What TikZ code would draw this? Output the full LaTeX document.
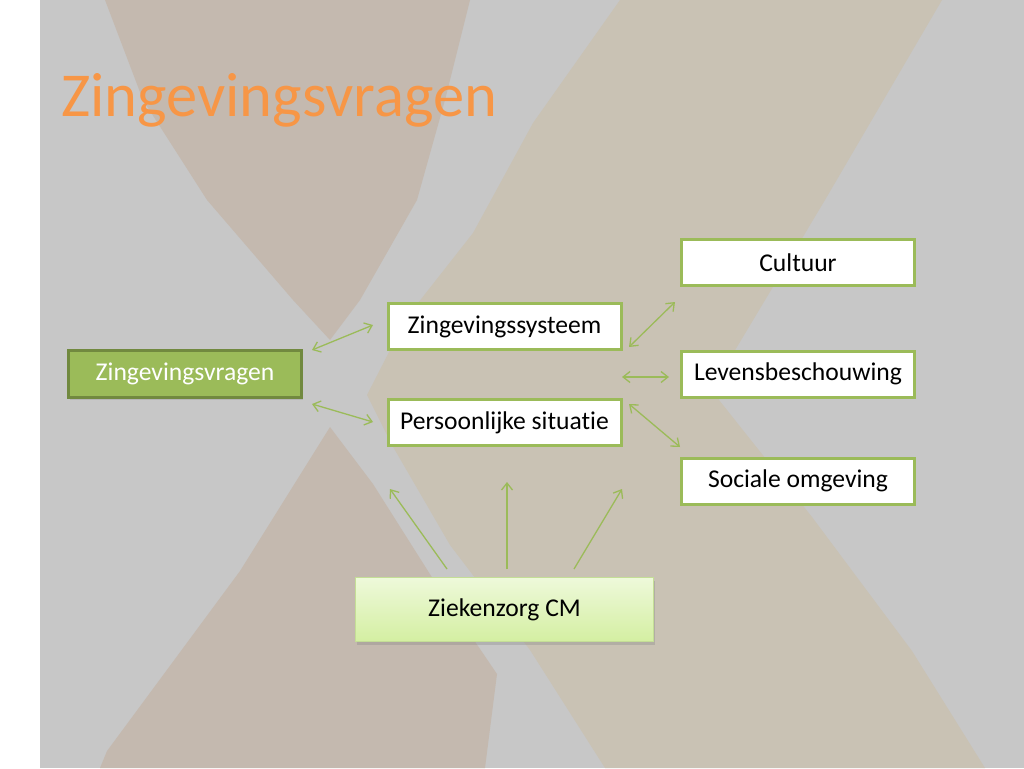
\documentclass[tikz,border=0pt]{standalone}
\usepackage{fontspec}
\setmainfont{Carlito}[Ligatures=NoCommon]
\usetikzlibrary{arrows.meta,shadows}
\definecolor{bggray}{RGB}{199,199,199}
\definecolor{redband}{RGB}{196,185,175}
\definecolor{yelband}{RGB}{201,194,180}
\definecolor{accent}{RGB}{155,187,89}
\definecolor{darkacc}{RGB}{113,137,63}
\definecolor{titleor}{RGB}{247,150,70}
\definecolor{ztop}{RGB}{238,249,218}
\definecolor{zbot}{RGB}{212,239,162}
\definecolor{zborder}{RGB}{196,222,150}
\begin{document}
\begin{tikzpicture}[x=1pt,y=-1pt,
  box/.style={draw=accent,line width=3pt,fill=white,minimum width=233pt,minimum height=46pt,inner sep=0pt,
    font=\fontsize{25.6}{30}\selectfont,text=black},
  greenbox/.style={draw=darkacc,line width=2.5pt,fill=accent,minimum width=233pt,minimum height=47pt,inner sep=0pt,
    font=\fontsize{25.6}{30}\selectfont,text=white,drop shadow={opacity=0.25,shadow xshift=1pt,shadow yshift=-2pt}},
  zbox/.style={draw=zborder,line width=1pt,top color=ztop,bottom color=zbot,minimum width=298pt,minimum height=64pt,inner sep=0pt,
    font=\fontsize{25.6}{30}\selectfont,text=black,drop shadow={opacity=0.3,shadow xshift=1pt,shadow yshift=-3pt}},
  link/.style={draw=accent,line width=1.3pt,{Straight Barb[length=7pt,width=11pt]}-{Straight Barb[length=7pt,width=11pt]}},
  uparrow/.style={draw=accent,line width=1.3pt,-{Straight Barb[length=7pt,width=11pt]}}
]
\useasboundingbox (0,0) rectangle (1024,768);
% background
\fill[white] (0,0) rectangle (40,768);
\fill[bggray] (40,0) rectangle (1024,768);
% yellowish chevron band
\fill[yelband] (620,0) -- (942,0) -- (825,200) -- (725,367) -- (719,400) -- (812,517) -- (912,651) -- (985,768)
  -- (605,768) -- (530,650) -- (450,545) -- (392,445) -- (367,395) -- (407,317) -- (473,233) -- (533,123) -- cycle;
% reddish top-left triangle
\fill[redband] (105,0) -- (470,0) -- (445,100) -- (417,200) -- (360,300) -- (330,340) -- (293,300) -- (207,200) -- (143,100) -- cycle;
% reddish bottom-left triangle
\fill[redband] (330,427) -- (373,484) -- (440,590) -- (497,674) -- (485,768) -- (100,768) -- (107,751) -- (240,571) -- cycle;
% title
\node[anchor=base west,inner sep=0pt,text=titleor,font=\fontsize{62.5}{70}\selectfont] (title) at (61,116) {Zingevingsvragen};
% boxes
\node[greenbox] (vragen) at (185,374) {Zingevingsvragen};
\node[box] (systeem) at (504.5,326.5) {Zingevingssysteem};
\node[box] (pers) at (504.5,422.5) {Persoonlijke situatie};
\node[box] (cult) at (798,262.5) {Cultuur};
\node[box] (lev) at (798,374) {Levensbeschouwing};
\node[box] (soc) at (798,481) {Sociale omgeving};
\node[zbox] (ziek) at (504.5,609.5) {Ziekenzorg CM};
% arrow end points
\coordinate (a1s) at (312,350); \coordinate (a1e) at (373,325);
\coordinate (a2s) at (312,404); \coordinate (a2e) at (373,422);
\coordinate (a3s) at (629,347); \coordinate (a3e) at (675,302);
\coordinate (a4s) at (622,377); \coordinate (a4e) at (669,377);
\coordinate (a5s) at (629,404); \coordinate (a5e) at (680,447);
\coordinate (u1s) at (447,569); \coordinate (u1e) at (390,489);
\coordinate (u2s) at (507,569); \coordinate (u2e) at (507,482);
\coordinate (u3s) at (574,569); \coordinate (u3e) at (622,489);
\draw[link] (a1s) -- (a1e);
\draw[link] (a2s) -- (a2e);
\draw[link] (a3s) -- (a3e);
\draw[link] (a4s) -- (a4e);
\draw[link] (a5s) -- (a5e);
\draw[uparrow] (u1s) -- (u1e);
\draw[uparrow] (u2s) -- (u2e);
\draw[uparrow] (u3s) -- (u3e);
\end{tikzpicture}
\end{document}
